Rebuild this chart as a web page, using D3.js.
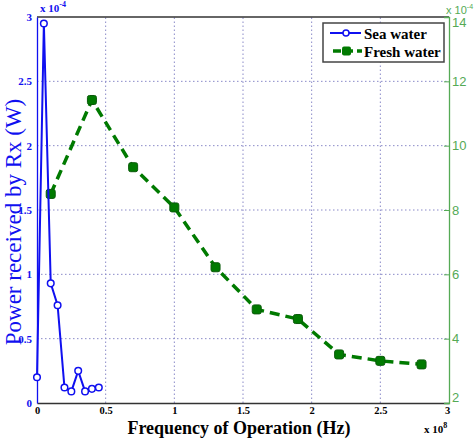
<!DOCTYPE html>
<html>
<head>
<meta charset="utf-8">
<script src="https://cdn.jsdelivr.net/npm/d3@7"></script>
<style>
  html, body { margin: 0; padding: 0; background: #fff; }
  svg { display: block; }
</style>
</head>
<body>
<div id="chart"></div>
<script>
// frequency in units of 1e8 Hz, power in units of 1e-4 W
const seaFreq = [0, 0.05, 0.1, 0.15, 0.2, 0.25, 0.3, 0.35, 0.4, 0.45];
const seaPower = [0.2, 2.95, 0.93, 0.76, 0.12, 0.09, 0.25, 0.09, 0.11, 0.12];
const freshFreq = [0.1, 0.4, 0.7, 1.0, 1.3, 1.6, 1.9, 2.2, 2.5, 2.8];
const freshPower = [8.5, 11.42, 9.33, 8.08, 6.22, 4.91, 4.61, 3.51, 3.31, 3.2];

const xTicks = [0, 0.5, 1, 1.5, 2, 2.5, 3];
const leftTicks = [0, 0.5, 1, 1.5, 2, 2.5, 3];
const rightTicks = [2, 4, 6, 8, 10, 12, 14];

const width = 474, height = 439;
const margin = {top: 17, right: 25, bottom: 36, left: 37};

const blue = "#1010f0", green = "#007a00", axisGreen = "#55aa55";
const serif = "'Liberation Serif', 'Times New Roman', serif";
const sans = "'Liberation Sans', Arial, sans-serif";

const svg = d3.select("#chart").append("svg")
  .attr("width", width)
  .attr("height", height);

const x = d3.scaleLinear().domain([0, 3]).range([margin.left, width - margin.right]);
const yL = d3.scaleLinear().domain([0, 3]).range([height - margin.bottom, margin.top]);
const yR = d3.scaleLinear().domain([2, 14]).range([height - margin.bottom, margin.top]);

const x0 = x(0), x1 = x(3), yb = yL(0), yt = yL(3);

// grid
const grid = svg.append("g")
  .attr("stroke", "#8a8ac8")
  .attr("stroke-width", 1)
  .attr("stroke-dasharray", "1.5,2.5");
grid.selectAll(".gx").data(xTicks.slice(1, -1)).enter().append("line")
  .attr("x1", d => x(d)).attr("x2", d => x(d))
  .attr("y1", yb).attr("y2", yt);
grid.selectAll(".gy").data(leftTicks.slice(1, -1)).enter().append("line")
  .attr("x1", x0).attr("x2", x1)
  .attr("y1", d => yL(d)).attr("y2", d => yL(d));

// bottom axis
const xAxis = svg.append("g")
  .attr("transform", `translate(0,${yb})`)
  .call(d3.axisBottom(x).tickValues(xTicks).tickSize(0).tickPadding(4)
    .tickFormat(d3.format("~g")));
xAxis.select(".domain").attr("stroke", "#333").attr("stroke-width", 1.3);
xAxis.selectAll("text").attr("font-family", serif).attr("font-weight", "bold")
  .attr("font-size", 10.5).attr("fill", "#000");
xAxis.selectAll(".tick").filter(d => d === 3).select("text").attr("dx", -2);

// top border
svg.append("line")
  .attr("x1", x0).attr("x2", x1).attr("y1", yt).attr("y2", yt)
  .attr("stroke", "#333").attr("stroke-width", 1.3);

// left axis
const lAxis = svg.append("g")
  .attr("transform", `translate(${x0},0)`)
  .call(d3.axisLeft(yL).tickValues(leftTicks).tickSize(0).tickPadding(5)
    .tickFormat(d3.format("~g")));
lAxis.select(".domain").attr("stroke", blue).attr("stroke-width", 1.3);
lAxis.selectAll("text").attr("font-family", serif).attr("font-weight", "bold")
  .attr("font-size", 11).attr("fill", blue);

// right axis
const rAxis = svg.append("g")
  .attr("transform", `translate(${x1},0)`)
  .call(d3.axisRight(yR).tickValues(rightTicks).tickSize(-5).tickPadding(3));
rAxis.select(".domain").attr("stroke", axisGreen).attr("stroke-width", 1.3);
rAxis.selectAll("line").attr("stroke", axisGreen);
rAxis.selectAll("text").attr("font-family", sans).attr("font-size", 13)
  .attr("fill", axisGreen);
rAxis.selectAll(".tick").filter(d => d === 14).select("text").attr("dy", "0.75em");
rAxis.selectAll(".tick").filter(d => d === 2).select("text").attr("dy", "-0.1em");

// exponent labels
const lExp = svg.append("text").attr("x", 40).attr("y", 12)
  .attr("font-family", serif).attr("font-weight", "bold").attr("font-size", 11)
  .attr("fill", blue);
lExp.append("tspan").text("x 10");
lExp.append("tspan").attr("dy", -5).attr("font-size", 8).text("-4");

const rExp = svg.append("text").attr("x", 446).attr("y", 14)
  .attr("font-family", sans).attr("font-size", 11).attr("fill", axisGreen);
rExp.append("tspan").text("x 10");
rExp.append("tspan").attr("dy", -5).attr("font-size", 7).text("-4");

const bExp = svg.append("text").attr("x", 424).attr("y", 433)
  .attr("font-family", serif).attr("font-weight", "bold").attr("font-size", 11)
  .attr("fill", "#000");
bExp.append("tspan").text("x 10");
bExp.append("tspan").attr("dy", -5).attr("font-size", 8).text("8");

// axis titles
svg.append("text")
  .attr("x", 239).attr("y", 434)
  .attr("text-anchor", "middle")
  .attr("font-family", serif).attr("font-weight", "bold").attr("font-size", 18)
  .attr("fill", "#000")
  .text("Frequency of Operation (Hz)");

svg.append("text")
  .attr("transform", `translate(21,222) rotate(-90)`)
  .attr("text-anchor", "middle")
  .attr("font-family", serif).attr("font-size", 23)
  .attr("fill", blue)
  .text("Power received by Rx (W)");

// fresh water line
const freshData = freshFreq.map((f, i) => [f, freshPower[i]]);
const freshLine = d3.line().x(d => x(d[0])).y(d => yR(d[1]));
svg.append("path").datum(freshData)
  .attr("d", freshLine)
  .attr("fill", "none").attr("stroke", green)
  .attr("stroke-width", 3.5).attr("stroke-dasharray", "10,6");
svg.selectAll(".fm").data(freshData).enter().append("rect")
  .attr("x", d => x(d[0]) - 4.5).attr("y", d => yR(d[1]) - 4.5)
  .attr("width", 9).attr("height", 9).attr("rx", 2)
  .attr("fill", green).attr("stroke", "#0a5a0a").attr("stroke-width", 1);

// sea water line
const seaData = seaFreq.map((f, i) => [f, seaPower[i]]);
const seaLine = d3.line().x(d => x(d[0])).y(d => yL(d[1]));
svg.append("path").datum(seaData)
  .attr("d", seaLine)
  .attr("fill", "none").attr("stroke", blue).attr("stroke-width", 2);
svg.selectAll(".sm").data(seaData).enter().append("circle")
  .attr("cx", d => x(d[0])).attr("cy", d => yL(d[1])).attr("r", 3.3)
  .attr("fill", "#fff").attr("stroke", blue).attr("stroke-width", 1.5);

// legend
const lg = svg.append("g");
lg.append("rect").attr("x", 323).attr("y", 23).attr("width", 121).attr("height", 39)
  .attr("fill", "#fff").attr("stroke", "#444").attr("stroke-width", 1.5);
lg.append("line").attr("x1", 330).attr("x2", 361).attr("y1", 33).attr("y2", 33)
  .attr("stroke", blue).attr("stroke-width", 2);
lg.append("circle").attr("cx", 346).attr("cy", 33).attr("r", 3)
  .attr("fill", "#fff").attr("stroke", blue).attr("stroke-width", 1.5);
lg.append("line").attr("x1", 333).attr("x2", 362).attr("y1", 51).attr("y2", 51)
  .attr("stroke", green).attr("stroke-width", 3.5).attr("stroke-dasharray", "8,4");
lg.append("rect").attr("x", 342).attr("y", 46.5).attr("width", 9).attr("height", 9).attr("rx", 2)
  .attr("fill", green);
lg.append("text").attr("x", 364).attr("y", 38.5)
  .attr("font-family", serif).attr("font-weight", "bold").attr("font-size", 15)
  .text("Sea water");
lg.append("text").attr("x", 364).attr("y", 56.5)
  .attr("font-family", serif).attr("font-weight", "bold").attr("font-size", 15)
  .text("Fresh water");
</script>
</body>
</html>
